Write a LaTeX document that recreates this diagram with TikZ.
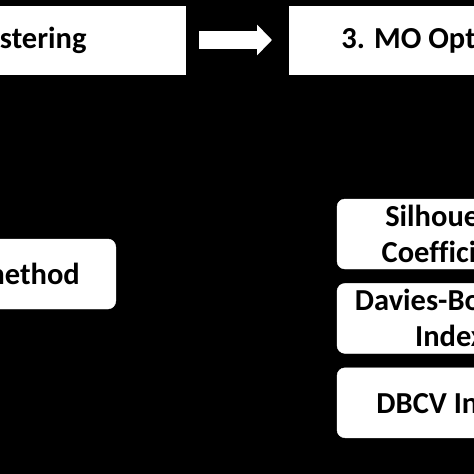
\documentclass[tikz,border=0pt]{standalone}
\usepackage{fontspec}
\setmainfont{Carlito}[Ligatures=CommonOff]
\usetikzlibrary{positioning,arrows.meta,calc}

\tikzset{
  boxfont/.style={font=\fontsize{30.5}{36}\selectfont\bfseries},
  stepbox/.style={boxfont, fill=white, draw=white, inner sep=0pt,
    minimum height=68pt, minimum width=356pt},
  metricbox/.style={boxfont, fill=white, draw=white, rounded corners=8pt,
    inner sep=0pt, minimum height=70pt, minimum width=226pt, align=center},
  flowarrow/.style={draw=white, line width=18pt,
    -{Triangle[length=15pt,width=30pt,fill=white]}},
}

\begin{document}
\begin{tikzpicture}[x=1pt,y=-1pt]
  \useasboundingbox (0,0) rectangle (474,474);
  \clip (0,0) rectangle (474,474);
  \fill[black] (0,0) rectangle (474,474);

  % top row
  \node[stepbox, anchor=east] (clus) at (185,40) {2. Clustering};
  \node[stepbox, anchor=west] (mo) at (289,40) {3. MO Optimization};
  \draw[flowarrow] ($(clus.east)+(14,0)$) -- ($(mo.west)+(-17,0)$);

  % clustering method
  \node[metricbox, anchor=east, text width=154pt, inner xsep=36pt, align=right]
    (method) at (116,274) {method};

  % metrics
  \node[metricbox] (sil) at (450,234) {Silhouette\\Coefficient};
  \node[metricbox, below=14pt of sil] (dbi) {Davies-Bouldin\\Index};
  \node[metricbox, below=14pt of dbi] (dbcv) {DBCV Index};
\end{tikzpicture}
\end{document}
